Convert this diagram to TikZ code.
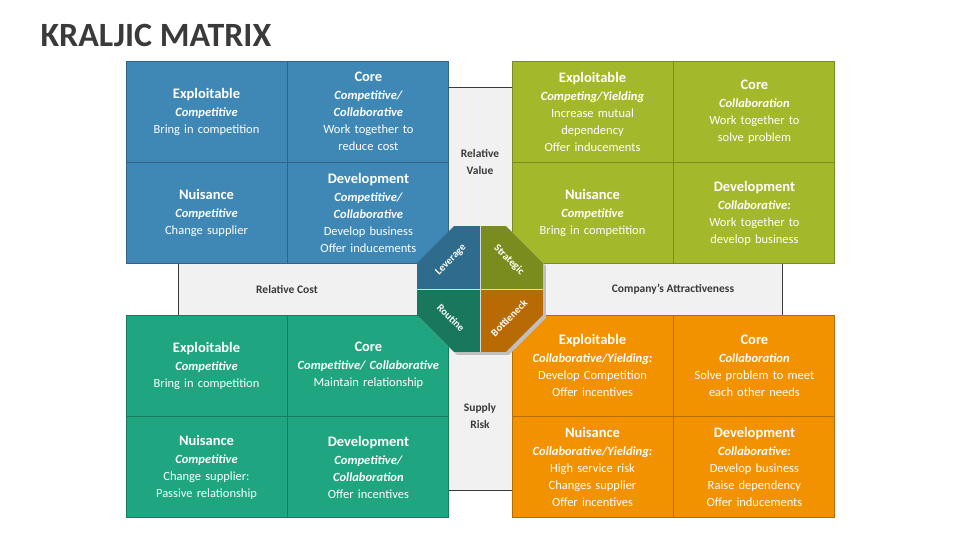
\documentclass[tikz,border=0pt]{standalone}
\usepackage{fontspec}
\setmainfont{Carlito}
\usetikzlibrary{positioning, calc}
\definecolor{qblue}{HTML}{3F88B5}
\definecolor{qgreen}{HTML}{A4B82C}
\definecolor{qteal}{HTML}{1FA57F}
\definecolor{qorange}{HTML}{F39200}
\definecolor{oblue}{HTML}{2F6B8C}
\definecolor{ogreen}{HTML}{7B8C1E}
\definecolor{oteal}{HTML}{18775D}
\definecolor{oorange}{HTML}{B86B05}
\definecolor{bandgray}{HTML}{F1F1F1}
\definecolor{titlegray}{HTML}{3A3A3A}
\newcommand{\celltext}[3]{{\fontsize{14.5}{17}\selectfont\bfseries #1\par}\vspace{1pt}{\bfseries\itshape #2\par}#3}
\tikzset{
  cellbox/.style={rectangle, draw=#1!75!black, line width=0.9pt, fill=#1, text=white, minimum width=161pt, minimum height=101pt, text width=157pt, align=center, font=\fontsize{12.5}{17}\selectfont, inner sep=2pt},
  bandlabel/.style={font=\fontsize{11.5}{17}\selectfont\bfseries, text=titlegray, align=center},
  octlabel/.style={text=white, font=\fontsize{10.5}{12}\selectfont\bfseries, inner sep=1pt}
}
\begin{document}
\begin{tikzpicture}[x=1pt, y=-1pt]
			\useasboundingbox (0,0) rectangle (960,540);
			\node[anchor=west, text=titlegray, font=\fontsize{34}{38}\selectfont\bfseries] (title) at (37,35) {KRALJIC MATRIX};
			
			% gray cross behind the quadrants
			\draw[fill=bandgray, draw=titlegray, line width=1pt] (448,88) -- (512,88) -- (512,262) -- (782,262) -- (782,315) -- (512,315) -- (512,490) -- (448,490) -- (448,315) -- (178,315) -- (178,262) -- (448,262) -- cycle;
			\node[bandlabel] (relval) at (480,162) {Relative\\Value};
			\node[bandlabel] (relcost) at (287,289) {Relative Cost};
			\node[bandlabel] (attract) at (673,289) {Company’s Attractiveness};
			\node[bandlabel] (risk) at (480,416) {Supply\\Risk};
			
			% top left
			\node[cellbox=qblue] (A1) at (206.5,111.5) {\celltext{Exploitable}{Competitive}{Bring in competition}};
			\node[cellbox=qblue, right=0pt of A1] (A2) {\celltext{Core}{Competitive/\\Collaborative}{Work together to\\reduce cost}};
			\node[cellbox=qblue, below=0pt of A1] (A3) {\celltext{Nuisance}{Competitive}{Change supplier}};
			\node[cellbox=qblue, below=0pt of A2] (A4) {\celltext{Development}{Competitive/\\Collaborative}{Develop business\\Offer inducements}};
			
			% top right
			\node[cellbox=qgreen] (B1) at (592.5,111.5) {\celltext{Exploitable}{Competing/Yielding}{Increase mutual\\dependency\\Offer inducements}};
			\node[cellbox=qgreen, right=0pt of B1] (B2) {\celltext{Core}{Collaboration}{Work together to\\solve problem}};
			\node[cellbox=qgreen, below=0pt of B1] (B3) {\celltext{Nuisance}{Competitive}{Bring in competition}};
			\node[cellbox=qgreen, below=0pt of B2] (B4) {\celltext{Development}{Collaborative:}{Work together to\\develop business}};
			
			% bottom left
			\node[cellbox=qteal] (C1) at (206.5,365.5) {\celltext{Exploitable}{Competitive}{Bring in competition}};
			\node[cellbox=qteal, right=0pt of C1] (C2) {\celltext{Core}{Competitive/ Collaborative}{Maintain relationship}};
			\node[cellbox=qteal, below=0pt of C1] (C3) {\celltext{Nuisance}{Competitive}{Change supplier:\\Passive relationship}};
			\node[cellbox=qteal, below=0pt of C2] (C4) {\celltext{Development}{Competitive/\\Collaboration}{Offer incentives}};
			
			% bottom right
			\node[cellbox=qorange] (D1) at (592.5,365.5) {\celltext{Exploitable}{Collaborative/Yielding:}{Develop Competition\\Offer incentives}};
			\node[cellbox=qorange, right=0pt of D1] (D2) {\celltext{Core}{Collaboration}{Solve problem to meet\\each other needs}};
			\node[cellbox=qorange, below=0pt of D1] (D3) {\celltext{Nuisance}{Collaborative/Yielding:}{High service risk\\Changes supplier\\Offer incentives}};
			\node[cellbox=qorange, below=0pt of D2] (D4) {\celltext{Development}{Collaborative:}{Develop business\\Raise dependency\\Offer inducements}};
			
			% octagon in the middle
			\coordinate (O) at (480,289);
			\fill[black!25] ($(O)+(3,3)$) +(22.5:68) -- +(67.5:68) -- +(112.5:68) -- +(157.5:68) -- +(202.5:68) -- +(247.5:68) -- +(292.5:68) -- +(337.5:68) -- cycle;
			\begin{scope}
				\clip (O) +(22.5:68) -- +(67.5:68) -- +(112.5:68) -- +(157.5:68) -- +(202.5:68) -- +(247.5:68) -- +(292.5:68) -- +(337.5:68) -- cycle;
				\fill[oblue] (O) rectangle ++(-70,-70);
				\fill[ogreen] (O) rectangle ++(70,-70);
				\fill[oteal] (O) rectangle ++(-70,70);
				\fill[oorange] (O) rectangle ++(70,70);
				\draw[white!70!gray, line width=0.6pt] ($(O)+(-70,0)$) -- ($(O)+(70,0)$);
				\draw[white!70!gray, line width=0.6pt] ($(O)+(0,-70)$) -- ($(O)+(0,70)$);
			\end{scope}
			\node[octlabel, rotate=45] (lev) at ($(O)+(-29,-29)$) {Leverage};
			\node[octlabel, rotate=-45] (str) at ($(O)+(29,-29)$) {Strategic};
			\node[octlabel, rotate=-45] (rou) at ($(O)+(-29,29)$) {Routine};
			\node[octlabel, rotate=45] (bot) at ($(O)+(29,29)$) {Bottleneck};
\end{tikzpicture}
\end{document}
